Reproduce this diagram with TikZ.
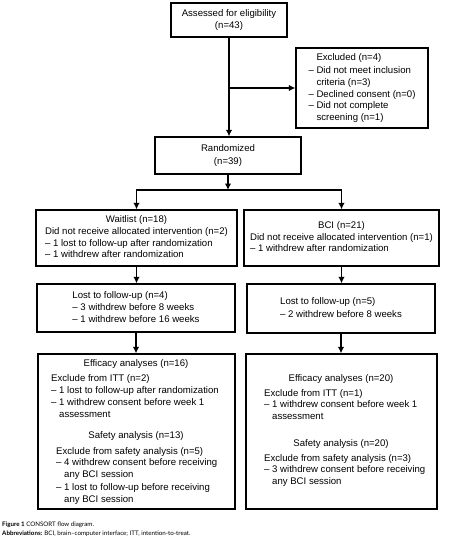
\documentclass[tikz,border=0pt]{standalone}
\usepackage{fontspec}
\setmainfont{Liberation Sans}
\newfontfamily\capfont{Lato}
\usetikzlibrary{arrows.meta}
\newcommand{\hg}{\phantom{– }}
\begin{document}
\begin{tikzpicture}[x=1pt,y=-1pt,
  box/.style={draw, line width=1.3pt, rectangle, inner sep=0pt, align=center,
    font=\fontsize{9.6}{11.6}\selectfont},
  txt/.style={inner sep=0pt, font=\fontsize{9.6}{11.6}\selectfont},
  arr/.style={-{Latex[length=6.5pt,width=6.5pt]}, line width=1.3pt},
  capt/.style={inner sep=0pt, anchor=base west, font=\capfont\fontsize{6.2}{7}\selectfont}]
\useasboundingbox (0,0) rectangle (474,538);

\node[box, minimum width=116pt, minimum height=34pt] (A) at (229,20)
  {Assessed for eligibility\\[1pt](n=43)};
\node[box, minimum width=132pt, minimum height=80pt] (E) at (362,88)
  {\begin{tabular}{@{}l@{}}\hg Excluded (n=4)\\[2pt]
   – Did not meet inclusion\\ \hg criteria (n=3)\\ – Declined consent (n=0)\\
   – Did not complete\\ \hg screening (n=1)\end{tabular}};
\node[box, minimum width=146pt, minimum height=37pt] (R) at (228,155.5)
  {Randomized\\[1pt](n=39)};
\coordinate (br) at (228,190);

\node[box, minimum width=201pt, minimum height=56pt] (W) at (136.5,238)
  {\begin{tabular}{@{}l@{}}\multicolumn{1}{@{}c@{}}{Waitlist (n=18)}\\
   Did not receive allocated intervention (n=2)\\
   – 1 lost to follow-up after randomization\\
   – 1 withdrew after randomization\end{tabular}};
\node[box, minimum width=195pt, minimum height=56pt] (B) at (341.5,238)
  {\begin{tabular}{@{}l@{}}\multicolumn{1}{@{}c@{}}{BCI (n=21)}\\
   Did not receive allocated intervention (n=1)\\
   – 1 withdrew after randomization\end{tabular}};

\node[box, minimum width=198pt, minimum height=48pt] (LL) at (136,308)
  {\begin{tabular}{@{}l@{}}Lost to follow-up (n=4)\\[1pt]
   – 3 withdrew before 8 weeks\\ – 1 withdrew before 16 weeks\end{tabular}};
\node[box, minimum width=188pt, minimum height=49pt] (LR) at (341,308.5)
  {\begin{tabular}{@{}l@{}}Lost to follow-up (n=5)\\[1pt]
   – 2 withdrew before 8 weeks\end{tabular}};

\node[box, minimum width=197pt, minimum height=155pt] (EL) at (136.5,431.5) {};
\node[box, minimum width=191pt, minimum height=155pt] (ER) at (341.5,431.5) {};

% left efficacy texts
\node[txt, anchor=base] (el1) at (136,366) {Efficacy analyses (n=16)};
\node[txt, anchor=base west] (el2) at (51,381)
  {\begin{tabular}[t]{@{}l@{}}Exclude from ITT (n=2)\\[0.6pt]
   – 1 lost to follow-up after randomization\\[0.6pt]
   – 1 withdrew consent before week 1\\[0.6pt]
   \hg assessment\end{tabular}};
\node[txt, anchor=base] (el3) at (136,438) {Safety analysis (n=13)};
\node[txt, anchor=base west] (el4) at (56,454)
  {\begin{tabular}[t]{@{}l@{}}Exclude from safety analysis (n=5)\\
   – 4 withdrew consent before receiving\\
   \hg any BCI session\\[2pt]
   – 1 lost to follow-up before receiving\\
   \hg any BCI session\end{tabular}};

% right efficacy texts
\node[txt, anchor=base] (er1) at (341,381) {Efficacy analyses (n=20)};
\node[txt, anchor=base west] (er2) at (264,396)
  {\begin{tabular}[t]{@{}l@{}}Exclude from ITT (n=1)\\
   – 1 withdrew consent before week 1\\
   \hg assessment\end{tabular}};
\node[txt, anchor=base] (er3) at (341,446) {Safety analysis (n=20)};
\node[txt, anchor=base west] (er4) at (264,461)
  {\begin{tabular}[t]{@{}l@{}}Exclude from safety analysis (n=3)\\
   – 3 withdrew consent before receiving\\
   \hg any BCI session\end{tabular}};

% connectors
\draw[arr] (A.south) -- (A.south |- R.north);
\draw[arr] (A.south |- E.west) -- (E.west);
\draw[arr] (R.south) -- (br);
\draw[arr] (br) -| (W.north);
\draw[arr] (br) -| (B.north);
\draw[arr] (W.south) -- (W.south |- LL.north);
\draw[arr] (B.south) -- (B.south |- LR.north);
\draw[arr] (LL.south) -- (LL.south |- EL.north);
\draw[arr] (LR.south) -- (LR.south |- ER.north);

% caption
\node[capt] (cap1) at (2,526) {\textbf{Figure 1} CONSORT flow diagram.};
\node[capt] (cap2) at (2,535.5) {\textbf{Abbreviations:} BCI, brain–computer interface; ITT, intention-to-treat.};
\end{tikzpicture}
\end{document}
